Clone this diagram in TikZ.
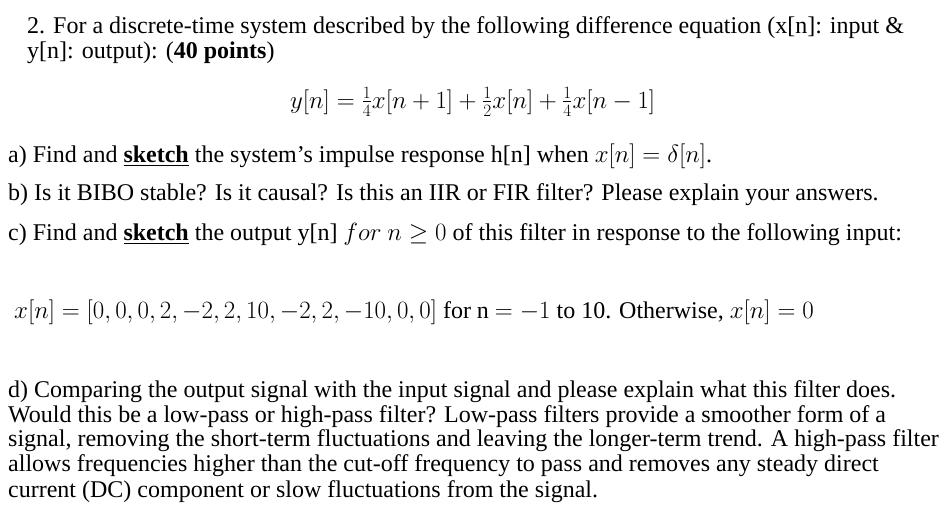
\documentclass[tikz,border=0pt]{standalone}
\usepackage{fontspec}
\setmainfont{Liberation Serif}
\usepackage{amsmath}
\tikzset{txt/.style={anchor=base west,inner sep=0pt,font=\fontsize{24}{27}\selectfont}}
\begin{document}
\begin{tikzpicture}[x=1pt,y=-1pt]
\useasboundingbox[fill=white] (0,0) rectangle (947,522);
\node[txt] (l1) at (27,33) {2. For a discrete-time system described by the following difference equation (x[n]: input \&};
\node[txt] (l2) at (27,58) {y[n]: output): (\textbf{40 points})};
\node[txt] (eq) at (290,108) {$y[n]=\frac{1}{4}x[n+1]+\frac{1}{2}x[n]+\frac{1}{4}x[n-1]$};
\node[txt] (a) at (8,162) {a) Find and \underline{\textbf{sketch}} the system's impulse response h[n] when $x[n]=\delta[n]$.};
\node[txt] (b) at (8,200) {b) Is it BIBO stable? Is it causal? Is this an IIR or FIR filter? Please explain your answers.};
\node[txt] (c) at (8,240) {c) Find and \underline{\textbf{sketch}} the output y[n] $for\ n\ge 0$ of this filter in response to the following input:};
\node[txt] (x) at (14,318) {$x[n]=[0,0,0,2,-2,2,10,-2,2,-10,0,0]$ for n $=-1$ to 10. Otherwise, $x[n]=0$};
\node[txt] (d1) at (8,397) {d) Comparing the output signal with the input signal and please explain what this filter does.};
\node[txt] (d2) at (8,422) {Would this be a low-pass or high-pass filter? Low-pass filters provide a smoother form of a};
\node[txt] (d3) at (8,446) {signal, removing the short-term fluctuations and leaving the longer-term trend. A high-pass filter};
\node[txt] (d4) at (8,471) {allows frequencies higher than the cut-off frequency to pass and removes any steady direct};
\node[txt] (d5) at (8,497) {current (DC) component or slow fluctuations from the signal.};
\end{tikzpicture}
\end{document}
